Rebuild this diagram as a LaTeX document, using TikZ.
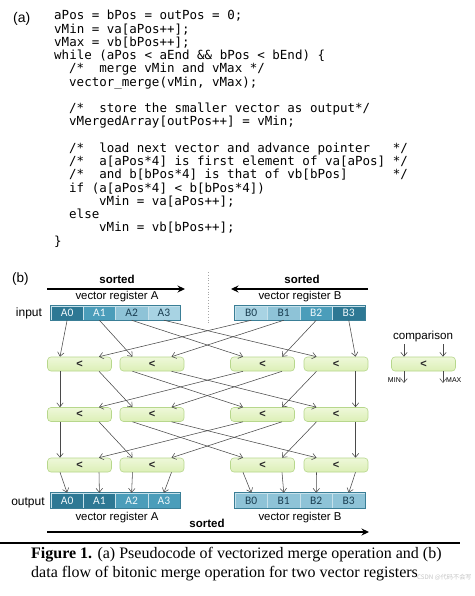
\documentclass[tikz,border=0pt]{standalone}
\usepackage{fontspec}
\setmainfont{Liberation Serif}
\newfontfamily\codefont{DejaVu Sans Mono}
\newfontfamily\lsans{Liberation Sans}
\newfontfamily\cellfont{Carlito}
\newfontfamily\cjkfont{Noto Sans CJK SC}
\usetikzlibrary{arrows.meta,calc}
\definecolor{regdark}{HTML}{2D7894}
\definecolor{regmid}{HTML}{4B9DBA}
\definecolor{reglight}{HTML}{8EC3D7}
\definecolor{reglighter}{HTML}{A8D3E3}
\definecolor{regborder}{HTML}{3A7E96}
\definecolor{regsep}{HTML}{C6E1EB}
\definecolor{lt}{HTML}{EEF7FA}
\definecolor{dk}{HTML}{1B3F52}
\definecolor{boxtop}{HTML}{EEF8D9}
\definecolor{boxbot}{HTML}{DCEFB6}
\definecolor{boxedge}{HTML}{B7D78C}
\definecolor{linegray}{HTML}{4A4A4A}
\newcommand\mycodeline[3]{\node[codeline] (cl#2) at ({54+7.5*#1},{20+13.24*(#2-1)}) {#3};}
\begin{document}
\begin{tikzpicture}[x=1pt,y=-1pt,
  codeline/.style={anchor=base west,inner sep=0pt,font=\codefont\fontsize{12.5}{13}\selectfont},
  flow/.style={draw=linegray,line width=0.55pt,-{Straight Barb[length=4pt,width=6.5pt]}},
  bigarrow/.style={draw=black,line width=1.3pt,-{Stealth[length=7.5pt,width=7pt,inset=2.5pt]}},
  cmpbox/.style={rounded corners=3.5pt,draw=boxedge,line width=0.6pt,top color=boxtop,bottom color=boxbot,
    minimum width=64pt,minimum height=14pt,inner sep=0pt,font=\lsans\bfseries\fontsize{11}{11}\selectfont,text=black!85},
  cell/.style={minimum height=14pt,inner sep=0pt,draw=regsep,line width=0.5pt,font=\cellfont\fontsize{11.5}{11.5}\selectfont},
  lab/.style={inner sep=0pt,anchor=base,font=\lsans\fontsize{11.4}{12}\selectfont},
  blab/.style={inner sep=0pt,anchor=base,font=\lsans\bfseries\fontsize{11.5}{12}\selectfont},
  regframe/.style={draw=regborder,line width=0.7pt}
]
\useasboundingbox (0,0) rectangle (474,596);
\fill[white] (0,0) rectangle (474,596);

% ---------- (a) code ----------
\node[anchor=base west,inner sep=0pt,font=\lsans\fontsize{14}{14}\selectfont] (lbla) at (13,22.5) {(a)};
\mycodeline{0}{1}{aPos = bPos = outPos = 0;}
\mycodeline{0}{2}{vMin = va[aPos++];}
\mycodeline{0}{3}{vMax = vb[bPos++];}
\mycodeline{0}{4}{while (aPos < aEnd \&\& bPos < bEnd) \{}
\mycodeline{2}{5}{/*~~merge vMin and vMax */}
\mycodeline{2}{6}{vector\_merge(vMin, vMax);}
\mycodeline{2}{8}{/*~~store the smaller vector as output*/}
\mycodeline{2}{9}{vMergedArray[outPos++] = vMin;}
\mycodeline{2}{11}{/*~~load next vector and advance pointer~~~*/}
\mycodeline{2}{12}{/*~~a[aPos*4] is first element of va[aPos] */}
\mycodeline{2}{13}{/*~~and b[bPos*4] is that of vb[bPos]~~~~~~*/}
\mycodeline{2}{14}{if (a[aPos*4] < b[bPos*4])}
\mycodeline{6}{15}{vMin = va[aPos++];}
\mycodeline{2}{16}{else}
\mycodeline{6}{17}{vMin = vb[bPos++];}
\mycodeline{0}{18}{\}}

% ---------- (b) header ----------
\node[anchor=base west,inner sep=0pt,font=\lsans\fontsize{13.5}{14}\selectfont] (lblb) at (12,282.5) {(b)};
\node[blab] (sortA) at (117,283.5) {sorted};
\node[blab] (sortB) at (302,283.5) {sorted};
\coordinate (aAs) at (47,289);
\coordinate (aAe) at (185,289);
\coordinate (aBs) at (368,289);
\coordinate (aBe) at (231,289);
\draw[bigarrow] (aAs) -- (aAe);
\draw[bigarrow] (aBs) -- (aBe);
\node[lab] (vrA) at (117,299.5) {vector register A};
\node[lab] (vrB) at (300,299.5) {vector register B};
\coordinate (dotT) at (208,272);
\coordinate (dotB) at (208,324);
\draw[gray!70,dotted,line width=0.8pt] (dotT) -- (dotB);
\node[lab,font=\lsans\fontsize{12}{12}\selectfont] (inlab) at (29,316.5) {input};

% input registers
\foreach \n/\x/\f/\t in {A0/67.1/regdark/lt, A1/99.4/regmid/lt, A2/131.6/reglight/dk, A3/163.9/reglighter/dk}
  \node[cell,minimum width=32.3pt,fill=\f,text=\t] (i\n) at (\x,313) {\n};
\foreach \n/\x/\f/\t in {B0/251.25/reglighter/dk, B1/283.75/reglight/dk, B2/316.25/regmid/lt, B3/348.75/regdark/lt}
  \node[cell,minimum width=32.5pt,fill=\f,text=\t] (i\n) at (\x,313) {\n};
\draw[regframe] (iA0.north west) rectangle (iA3.south east);
\draw[regframe] (iB0.north west) rectangle (iB3.south east);

% comparators
\foreach \ya/\rw in {364/1, 414.5/2, 465/3} {
  \node[cmpbox] (r\rw c1) at (79.5,\ya) {<};
  \node[cmpbox] (r\rw c2) at (152,\ya) {<};
  \node[cmpbox] (r\rw c3) at (262.5,\ya) {<};
  \node[cmpbox] (r\rw c4) at (336,\ya) {<};
}

% stage 1
\foreach \k/\cc in {0/1,1/2,2/3,3/4} {
  \draw[flow] (iA\k.south) -- ([xshift=-19.5pt]r1c\cc.north);
  \draw[flow] (iB\k.south) -- ([xshift=19.5pt]r1c\cc.north);
}
% stages 2 and 3
\foreach \ra/\rb in {1/2,2/3} {
  \foreach \fa/\fo/\ta/\tp in {1/-19.5/1/-19.5, 1/19.5/2/-19.5, 2/-19.5/3/-19.5, 2/19.5/4/-19.5,
                               3/-19.5/1/19.5, 3/19.5/2/19.5, 4/-19.5/3/19.5, 4/19.5/4/19.5}
    \draw[flow] ([xshift=\fo pt]r\ra c\fa.south) -- ([xshift=\tp pt]r\rb c\ta.north);
}

% output registers
\foreach \n/\x/\f/\t in {A0/67.1/regdark/lt, A1/99.4/regdark/lt, A2/131.6/regmid/lt, A3/163.9/regmid/lt}
  \node[cell,minimum width=32.3pt,minimum height=15pt,fill=\f,text=\t] (o\n) at (\x,500.5) {\n};
\foreach \n/\x/\f/\t in {B0/251.25/reglight/dk, B1/283.75/reglight/dk, B2/316.25/reglight/dk, B3/348.75/reglight/dk}
  \node[cell,minimum width=32.5pt,minimum height=15pt,fill=\f,text=\t] (o\n) at (\x,500.5) {\n};
\draw[regframe] (oA0.north west) rectangle (oA3.south east);
\draw[regframe] (oB0.north west) rectangle (oB3.south east);

\foreach \cc/\o/\tg in {1/-19.5/oA0, 1/19.5/oA1, 2/-19.5/oA2, 2/19.5/oA3, 3/-19.5/oB0, 3/19.5/oB1, 4/-19.5/oB2, 4/19.5/oB3}
  \draw[flow] ([xshift=\o pt]r3c\cc.south) -- (\tg.north);

\node[lab,font=\lsans\fontsize{12}{12}\selectfont] (outlab) at (28,505) {output};
\node[lab] (vrA2) at (117,520.5) {vector register A};
\node[lab] (vrB2) at (300,520.5) {vector register B};
\node[blab] (sortAll) at (207,527) {sorted};
\coordinate (aCs) at (47,532);
\coordinate (aCe) at (369,532);
\draw[bigarrow] (aCs) -- (aCe);

% comparison legend
\node[lab,font=\lsans\fontsize{11.6}{12}\selectfont] (cmplab) at (423,339) {comparison};
\node[cmpbox] (cmp) at (423.5,364) {<};
\coordinate (cin1) at (404,344);
\coordinate (cin2) at (443,344);
\coordinate (cout1) at (404,383);
\coordinate (cout2) at (443,383);
\draw[flow] (cin1) -- ([xshift=-19.5pt]cmp.north);
\draw[flow] (cin2) -- ([xshift=19.5pt]cmp.north);
\draw[flow] ([xshift=-19.5pt]cmp.south) -- (cout1);
\draw[flow] ([xshift=19.5pt]cmp.south) -- (cout2);
\node[inner sep=0pt,anchor=base east,font=\lsans\fontsize{7}{7}\selectfont] (minlab) at (401,382) {MIN};
\node[inner sep=0pt,anchor=base west,font=\lsans\fontsize{7}{7}\selectfont] (maxlab) at (446,382) {MAX};

% rule and caption
\coordinate (ruleL) at (0,543);
\coordinate (ruleR) at (460,543);
\draw[line width=1.2pt] (ruleL) -- (ruleR);
\node[anchor=base west,inner sep=0pt,font=\fontsize{16}{19}\selectfont] (cap1) at (31,558.5) {\textbf{Figure 1.} (a) Pseudocode of vectorized merge operation and (b)};
\node[anchor=base west,inner sep=0pt,font=\fontsize{16}{19}\selectfont] (cap2) at (31,577.5) {data flow of bitonic merge operation for two vector registers};
\node[anchor=base west,inner sep=0pt,text=gray!45,font=\cjkfont\fontsize{6.2}{7}\selectfont] (wm) at (417,579) {CSDN @代码不会写};
\end{tikzpicture}
\end{document}
